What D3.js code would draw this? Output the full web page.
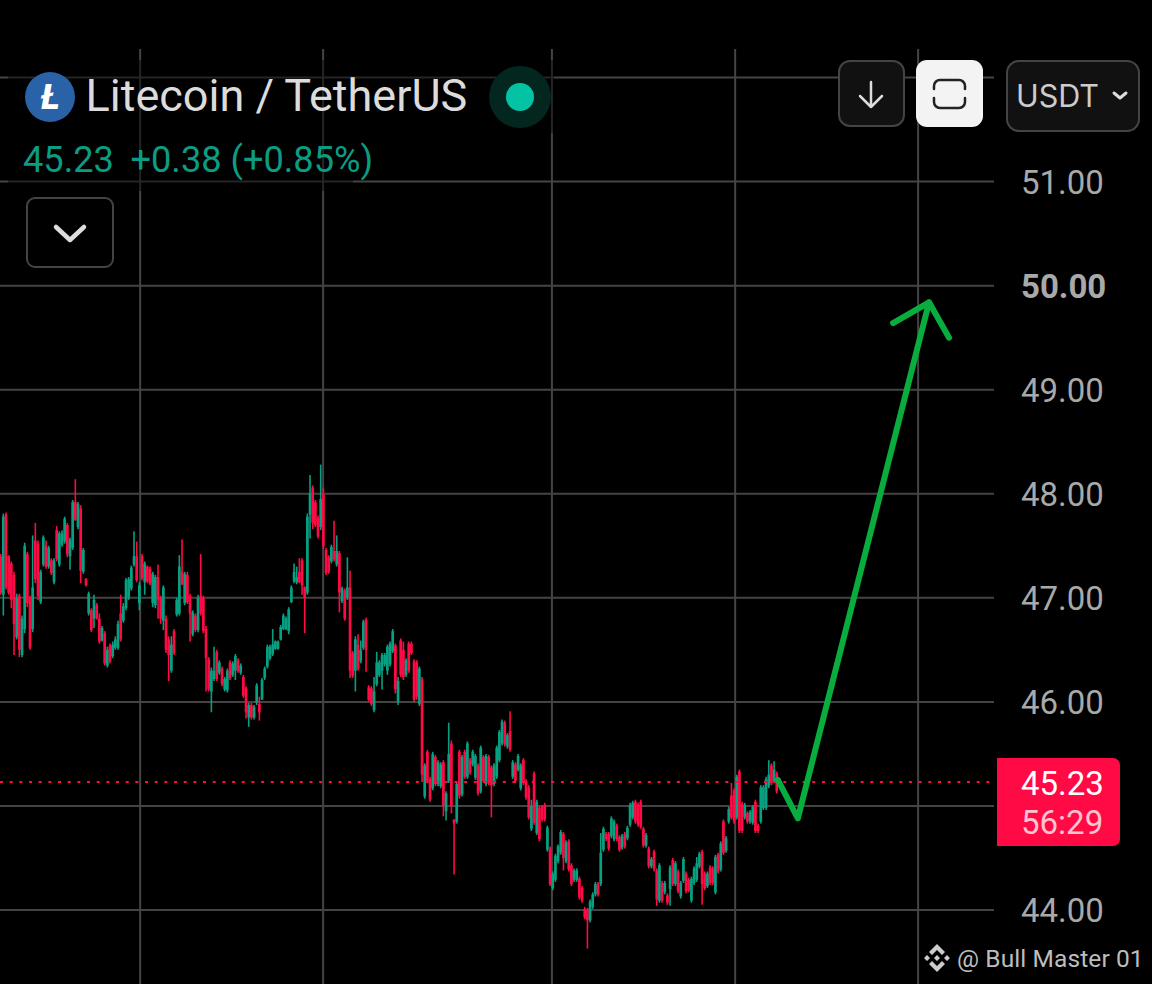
<!DOCTYPE html>
<html><head><meta charset="utf-8">
<script src="https://cdn.jsdelivr.net/npm/d3@7"></script>
<style>html,body{margin:0;background:#000;overflow:hidden}svg{display:block;font-family:Roboto,sans-serif}</style>
</head><body><svg id="c" width="1152" height="984"></svg>
<script>
const highs=[
47.42,47.81,47.82,47.41,47.35,47.25,47.04,47.04,46.83,47.53,
47.44,47.02,47.60,47.72,47.55,47.27,47.60,47.55,47.50,47.38,
47.38,47.69,47.64,47.65,47.78,47.72,47.58,47.94,48.14,47.92,
47.89,47.48,47.19,47.06,46.90,47.03,46.95,46.85,46.73,46.68,
46.53,46.56,46.58,46.63,46.78,47.03,46.95,47.19,47.20,47.31,
47.64,47.54,47.15,47.42,47.35,47.31,47.30,47.25,47.22,47.32,
47.02,47.12,46.83,46.63,46.63,46.70,47.00,47.41,47.56,47.25,
47.25,47.04,46.88,46.85,47.03,47.42,47.02,46.73,46.43,46.33,
46.53,46.50,46.40,46.34,46.24,46.32,46.40,46.39,46.46,46.42,
46.37,46.26,46.15,45.99,45.99,45.97,46.18,46.05,46.23,46.34,
46.55,46.55,46.70,46.59,46.59,46.74,46.85,46.82,46.91,47.12,
47.33,47.30,47.38,47.38,47.11,47.81,48.18,48.08,47.94,47.79,
48.28,48.06,47.48,47.41,47.51,47.74,47.60,47.45,47.11,47.09,
47.39,47.26,46.49,46.63,46.65,46.59,46.79,46.81,46.16,46.15,
46.24,46.48,46.40,46.47,46.47,46.55,46.58,46.70,46.56,46.24,
46.61,46.58,46.42,46.58,46.58,46.41,46.40,46.34,46.24,45.41,
45.54,45.28,45.52,45.49,45.44,45.42,45.44,45.14,45.80,45.63,
44.87,45.23,45.54,45.49,45.54,45.62,45.46,45.54,45.50,45.41,
45.58,45.49,45.50,45.49,45.39,45.41,45.58,45.73,45.83,45.82,
45.70,45.91,45.44,45.42,45.50,45.41,45.46,45.26,45.20,45.06,
45.33,45.06,45.00,45.01,45.03,44.81,44.61,44.37,44.54,44.63,
44.77,44.75,44.67,44.68,44.45,44.40,44.40,44.32,44.23,44.03,
44.02,44.10,44.17,44.27,44.27,44.74,44.80,44.75,44.75,44.90,
44.87,44.83,44.72,44.73,44.75,44.81,45.03,45.05,45.06,45.03,
45.06,44.80,44.74,44.61,44.51,44.58,44.40,44.45,44.28,44.28,
44.16,44.43,44.50,44.47,44.39,44.28,44.51,44.37,44.31,44.32,
44.42,44.51,44.56,44.58,44.37,44.37,44.43,44.42,44.53,44.55,
44.66,44.87,44.71,44.99,45.22,45.17,45.30,45.35,45.04,45.03,
44.95,44.96,45.01,45.06,44.83,45.20,45.20,45.28,45.44,45.41,
45.43,45.33,45.27];
const lows=[
47.03,46.83,47.08,47.03,46.90,46.45,46.60,46.43,46.43,46.66,
46.91,46.50,46.67,47.14,46.98,46.94,47.30,47.28,47.28,47.22,
47.13,47.35,47.30,47.49,47.52,47.39,47.27,47.46,47.74,47.66,
47.14,47.23,47.11,46.83,46.67,46.71,46.79,46.56,46.58,46.35,
46.33,46.37,46.42,46.50,46.50,46.58,46.76,46.88,46.98,47.07,
47.30,47.15,46.88,47.17,47.03,47.14,47.12,46.91,46.90,46.80,
46.75,46.69,46.47,46.20,46.28,46.45,46.82,46.83,47.12,46.93,
46.94,46.58,46.63,46.67,46.67,46.83,46.66,46.10,46.10,45.90,
46.20,46.20,46.26,46.15,46.10,46.09,46.21,46.24,46.21,46.28,
46.26,46.04,45.84,45.76,45.83,45.83,45.97,45.82,46.04,46.21,
46.32,46.40,46.44,46.50,46.50,46.59,46.69,46.69,46.65,46.95,
47.14,47.13,47.14,47.03,46.66,47.03,47.57,47.66,47.68,47.57,
47.65,47.47,47.22,47.23,47.33,47.35,47.30,46.86,46.95,46.78,
46.98,46.23,46.23,46.10,46.30,46.37,46.50,46.29,46.00,45.96,
45.90,46.15,46.24,46.12,46.34,46.26,46.34,46.47,46.08,45.97,
46.24,46.21,46.24,46.28,46.45,46.00,46.02,45.96,45.23,45.07,
45.22,45.04,45.15,45.19,45.19,45.17,44.90,44.86,45.22,44.93,
44.34,44.83,45.07,45.09,45.26,45.26,45.30,45.38,45.25,45.10,
45.12,45.22,45.19,45.20,44.89,45.19,45.26,45.42,45.58,45.57,
45.55,45.52,45.26,45.22,45.33,45.15,45.20,45.06,44.87,44.76,
44.82,44.72,44.66,44.85,44.85,44.56,44.23,44.19,44.27,44.45,
44.53,44.38,44.45,44.37,44.23,44.27,44.27,44.10,44.07,43.91,
43.63,43.88,44.01,44.13,44.13,44.23,44.56,44.66,44.57,44.69,
44.66,44.66,44.56,44.58,44.59,44.67,44.80,44.87,44.83,44.80,
44.78,44.60,44.60,44.40,44.40,44.37,44.04,44.07,44.07,44.15,
44.05,44.04,44.23,44.23,44.16,44.11,44.26,44.16,44.17,44.07,
44.24,44.27,44.40,44.05,44.19,44.21,44.24,44.24,44.15,44.35,
44.37,44.53,44.55,44.83,44.87,44.83,44.87,44.74,44.74,44.87,
44.83,44.83,44.82,44.74,44.74,44.83,44.96,44.96,45.17,45.20,
45.22,45.12,45.20];
const opens=[
47.40,47.03,47.80,47.40,47.33,47.22,46.62,47.02,46.45,46.70,
47.42,47.00,46.70,47.55,47.52,46.96,47.32,47.50,47.30,47.36,
47.15,47.65,47.32,47.51,47.54,47.70,47.40,47.48,47.92,47.68,
47.86,47.25,47.18,46.85,46.88,46.80,46.93,46.80,46.59,46.66,
46.35,46.54,46.44,46.52,46.52,46.85,46.78,46.90,47.00,47.09,
47.32,47.40,46.95,47.40,47.15,47.30,47.28,46.95,46.93,47.20,
47.00,46.78,46.80,46.60,46.30,46.68,46.84,46.85,47.25,46.95,
47.22,47.02,46.65,46.83,46.69,47.02,47.00,46.70,46.41,46.10,
46.22,46.48,46.28,46.32,46.12,46.11,46.38,46.26,46.30,46.40,
46.28,46.24,46.13,45.85,45.97,45.85,45.99,45.98,46.02,46.23,
46.34,46.42,46.46,46.51,46.51,46.60,46.70,46.70,46.68,46.96,
47.16,47.15,47.25,47.36,47.10,47.05,47.80,48.06,47.92,47.77,
47.68,48.00,47.46,47.39,47.35,47.45,47.32,47.43,46.97,47.07,
47.00,47.10,46.47,46.30,46.55,46.39,46.52,46.79,46.14,46.13,
45.92,46.17,46.26,46.30,46.36,46.30,46.36,46.49,46.54,46.00,
46.59,46.50,46.26,46.56,46.56,46.39,46.38,45.98,46.22,45.09,
45.52,45.26,45.17,45.47,45.21,45.19,45.42,44.95,45.24,45.60,
44.87,44.85,45.52,45.11,45.52,45.28,45.44,45.40,45.27,45.39,
45.14,45.47,45.21,45.47,45.37,45.21,45.28,45.44,45.60,45.80,
45.57,45.72,45.28,45.40,45.35,45.17,45.44,45.24,45.18,44.78,
45.31,44.74,44.98,44.99,45.01,44.58,44.59,44.21,44.29,44.47,
44.55,44.73,44.47,44.66,44.43,44.29,44.29,44.30,44.21,44.01,
44.00,43.90,44.03,44.15,44.25,44.25,44.58,44.73,44.73,44.71,
44.68,44.81,44.70,44.60,44.73,44.69,44.82,44.89,45.04,45.01,
45.04,44.78,44.62,44.59,44.42,44.56,44.38,44.09,44.26,44.17,
44.14,44.20,44.48,44.25,44.37,44.13,44.28,44.35,44.29,44.09,
44.26,44.29,44.42,44.56,44.35,44.23,44.41,44.40,44.17,44.53,
44.39,44.85,44.57,44.85,45.10,45.15,44.89,45.33,45.02,44.89,
44.93,44.85,44.84,45.04,44.81,44.85,44.98,44.98,45.19,45.39,
45.24,45.31,45.26];
const closes=[
47.05,47.78,47.10,47.05,46.98,46.75,47.00,46.50,46.80,47.50,
46.95,46.52,47.10,47.18,47.02,47.25,47.58,47.30,47.48,47.24,
47.36,47.37,47.62,47.62,47.76,47.42,47.56,47.92,47.75,47.90,
47.26,47.46,47.12,47.04,46.69,46.98,46.80,46.58,46.71,46.37,
46.50,46.39,46.55,46.60,46.75,46.60,46.92,47.17,47.18,47.29,
47.40,47.17,47.12,47.19,47.33,47.16,47.14,47.23,47.20,46.98,
46.80,47.10,46.50,46.45,46.55,46.47,46.98,47.30,47.13,47.23,
46.96,46.85,46.86,46.69,47.00,46.85,46.68,46.42,46.12,46.30,
46.30,46.22,46.38,46.17,46.22,46.30,46.23,46.37,46.44,46.30,
46.35,46.06,45.90,45.97,45.85,45.95,46.16,45.90,46.21,46.32,
46.53,46.53,46.55,46.58,46.58,46.72,46.83,46.80,46.89,47.10,
47.25,47.20,47.15,47.12,47.00,47.78,48.00,47.72,47.70,47.59,
47.95,47.50,47.24,47.25,47.49,47.37,47.45,47.05,47.09,46.80,
47.10,46.30,46.25,46.60,46.32,46.50,46.77,46.50,46.02,45.98,
46.10,46.38,46.38,46.45,46.45,46.53,46.56,46.68,46.12,46.20,
46.26,46.24,46.40,46.30,46.47,46.02,46.05,46.32,45.30,45.39,
45.24,45.06,45.50,45.21,45.42,45.40,45.00,45.12,45.50,45.00,
44.83,45.21,45.10,45.47,45.28,45.60,45.32,45.52,45.48,45.12,
45.56,45.24,45.48,45.22,45.20,45.39,45.56,45.71,45.81,45.59,
45.68,45.54,45.42,45.24,45.48,45.39,45.22,45.08,44.89,45.00,
44.84,45.04,44.68,44.87,44.87,44.79,44.25,44.35,44.52,44.61,
44.75,44.50,44.65,44.39,44.25,44.38,44.38,44.12,44.09,43.93,
43.90,44.08,44.15,44.25,44.15,44.55,44.78,44.68,44.59,44.88,
44.85,44.68,44.58,44.71,44.61,44.79,45.01,45.03,44.85,44.82,
44.80,44.62,44.72,44.42,44.49,44.40,44.10,44.43,44.09,44.26,
44.07,44.41,44.25,44.45,44.18,44.26,44.49,44.18,44.19,44.30,
44.40,44.45,44.54,44.25,44.21,44.35,44.26,44.26,44.51,44.37,
44.64,44.55,44.69,44.97,44.89,44.85,45.28,44.76,44.76,45.01,
44.85,44.94,44.99,44.76,44.76,45.18,45.18,45.26,45.30,45.22,
45.35,45.14,45.23];

const priceTicks=[44,45,46,47,48,49,50,51,52];
const labelledTicks=[44,46,47,48,49,50,51];
const boldTick=50;
const timeGridIndex=[52.3,120.9,206.7,275.4,344];
const lastPrice=45.23;
const countdown="56:29";
const arrowIndex=[291.4,298.9,348.1];
const arrowPrice=[45.25,44.88,49.84];
const arrowHeadIndex=[334.6,348.1,355.6];
const arrowHeadPrice=[49.64,49.84,49.50];
const title="Litecoin / TetherUS";
const quoteLast="45.23";
const quoteChange="+0.38 (+0.85%)";

const GREEN="#06a082",TEXTGREEN="#0b9d84",RED="#ff0a45",GRID="#444";
const svg=d3.select("#c");
const x=d3.scaleLinear().domain([0,1]).range([0.67,3.337]);
const y=d3.scaleLinear().domain([44,51]).range([910,181.6]);

const grid=svg.append("g");
grid.selectAll(".h").data(priceTicks).join("line").attr("x1",0).attr("x2",994)
 .attr("y1",d=>y(d)).attr("y2",d=>y(d)).attr("stroke",GRID).attr("stroke-width",2);
grid.selectAll(".v").data(timeGridIndex).join("line").attr("x1",d=>x(d)).attr("x2",d=>x(d))
 .attr("y1",49).attr("y2",984).attr("stroke",GRID).attr("stroke-width",2);

// translucent legend backdrop
svg.append("rect").attr("x",8).attr("y",60).attr("width",546).attr("height",73).attr("fill","#000").attr("opacity",.45);
svg.append("rect").attr("x",8).attr("y",133).attr("width",345).attr("height",58).attr("fill","#000").attr("opacity",.45);

const idx=d3.range(highs.length);
const col=i=>closes[i]>=opens[i]?GREEN:RED;
svg.append("g").selectAll("line").data(idx).join("line")
 .attr("x1",x).attr("x2",x).attr("y1",i=>y(highs[i])).attr("y2",i=>y(lows[i]))
 .attr("stroke",col).attr("stroke-width",1.6);
svg.append("g").selectAll("rect").data(idx).join("rect")
 .attr("x",i=>x(i)-1.35).attr("width",2.7)
 .attr("y",i=>y(Math.max(opens[i],closes[i])))
 .attr("height",i=>Math.max(1,Math.abs(y(opens[i])-y(closes[i]))))
 .attr("fill",col);

svg.append("line").attr("x1",0).attr("x2",992).attr("y1",y(lastPrice)).attr("y2",y(lastPrice))
 .attr("stroke",RED).attr("stroke-width",2).attr("stroke-dasharray","3 6.67");

// arrow
const ln=d3.line().x(d=>x(d[0])).y(d=>y(d[1]));
const arrowStyle=s=>s.attr("fill","none").attr("stroke","#09ad3e").attr("stroke-width",6).attr("stroke-linejoin","round").attr("stroke-linecap","round");
svg.append("path").attr("d",ln(d3.zip(arrowIndex,arrowPrice))).call(arrowStyle);
svg.append("path").attr("d",ln(d3.zip(arrowHeadIndex,arrowHeadPrice))).call(arrowStyle);

// price axis
const axis=d3.axisRight(y).tickValues(labelledTicks).tickSize(0).tickPadding(0).tickFormat(d3.format(".2f"));
const ag=svg.append("g").attr("transform","translate(1021,0)").call(axis);
ag.select(".domain").remove();
ag.selectAll("text").attr("font-family","Roboto").attr("font-size",33).attr("fill","#a9a9a9")
 .attr("font-weight",d=>d===boldTick?700:400).attr("dy",".355em");

// last price tag
svg.append("path").attr("fill",RED).attr("d","M997,758H1113a7,7 0 0 1 7,7V839a7,7 0 0 1 -7,7H997Z");
svg.append("text").attr("x",1021).attr("y",795).attr("font-size",33).attr("fill","#fff").text(lastPrice.toFixed(2));
svg.append("text").attr("x",1021).attr("y",834).attr("font-size",33).attr("fill","#ffc4d0").text(countdown);

// header
svg.append("circle").attr("cx",50).attr("cy",97).attr("r",25).attr("fill","#2a62a8");
svg.append("text").attr("x",50).attr("y",109).attr("text-anchor","middle").attr("font-size",35).attr("font-weight",900).attr("font-style","italic").attr("fill","#fff").text("Ł");
svg.append("text").attr("x",85.5).attr("y",111).attr("font-size",45).attr("fill","#dcdcdc").text(title);
svg.append("circle").attr("cx",520).attr("cy",97).attr("r",31).attr("fill","#03261f");
svg.append("circle").attr("cx",520).attr("cy",97).attr("r",14).attr("fill","#04c3a5");
svg.append("text").attr("x",23).attr("y",172).attr("font-size",36.2).attr("fill",TEXTGREEN).text(quoteLast);
svg.append("text").attr("x",130.5).attr("y",172).attr("font-size",36.2).attr("fill",TEXTGREEN).text(quoteChange);

// chevron button
svg.append("rect").attr("x",27).attr("y",198).attr("width",86).attr("height",69).attr("rx",8).attr("fill","#000").attr("stroke","#444").attr("stroke-width",2);
svg.append("path").attr("d","M56,227L70,240L84,227").attr("fill","none").attr("stroke","#ddd").attr("stroke-width",4.5).attr("stroke-linecap","round").attr("stroke-linejoin","round");

// top right buttons
svg.append("rect").attr("x",839).attr("y",61).attr("width",65).attr("height",65).attr("rx",11).attr("fill","#111").attr("stroke","#444").attr("stroke-width",2);
svg.append("path").attr("d","M871,82V107M860,96L871,107L882,96").attr("fill","none").attr("stroke","#ddd").attr("stroke-width",2.5).attr("stroke-linecap","round").attr("stroke-linejoin","round");
svg.append("rect").attr("x",916).attr("y",60).attr("width",67).attr("height",67).attr("rx",11).attr("fill","#f3f3f3");
svg.append("path").attr("d","M934,89V86a6,6 0 0 1 6,-6H959a6,6 0 0 1 6,6V89M934,98V102a6,6 0 0 0 6,6H959a6,6 0 0 0 6,-6V98").attr("fill","none").attr("stroke","#222").attr("stroke-width",2.5).attr("stroke-linecap","round");
svg.append("rect").attr("x",1007).attr("y",61).attr("width",132).attr("height",70).attr("rx",12).attr("fill","#111").attr("stroke","#444").attr("stroke-width",2);
svg.append("text").attr("x",1016).attr("y",107).attr("font-family","Inter").attr("font-size",30.5).attr("fill","#ccc").text("USDT");
svg.append("path").attr("d","M1114,93L1120,98L1126,93").attr("fill","none").attr("stroke","#ddd").attr("stroke-width",3).attr("stroke-linecap","round").attr("stroke-linejoin","round");

// watermark
const icon=svg.append("g").attr("fill","#ccc").attr("transform","translate(937,958)");
icon.append("path").attr("d","M0,-14L8,-6L5,-3L0,-8L-5,-3L-8,-6ZM0,14L8,6L5,3L0,8L-5,3L-8,6ZM0,-3L3,0L0,3L-3,0ZM-10,-3L-7,0L-10,3L-13,0ZM10,-3L13,0L10,3L7,0Z");
svg.append("text").attr("x",957).attr("y",967).attr("font-size",24.5).attr("letter-spacing",.1).attr("fill","#bdbdbd").text("@ Bull Master 01");
</script></body></html>
